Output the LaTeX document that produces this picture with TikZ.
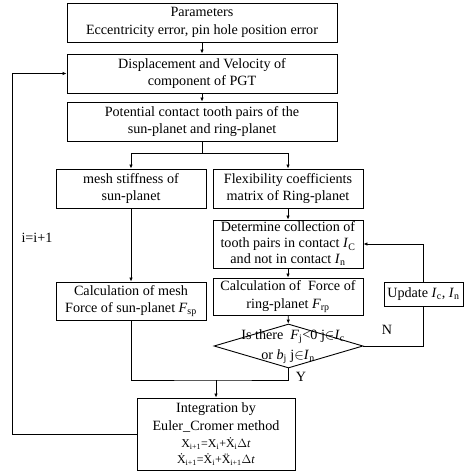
\documentclass[tikz,border=0pt]{standalone}
\usepackage{fontspec}
\setmainfont{Liberation Serif}
\usetikzlibrary{arrows.meta,shapes.geometric}
\begin{document}
\begin{tikzpicture}[x=1bp,y=-1bp,
  box/.style={draw,line width=0.9pt,align=center,inner sep=0pt,font=\fontsize{14.2}{17.5}\selectfont},
  arr/.style={-{Latex[length=4pt,width=3.5pt]},line width=0.8pt},
  ln/.style={line width=0.8pt},
  lab/.style={font=\fontsize{14.2}{16}\selectfont}]
\useasboundingbox[fill=white] (0,0) rectangle (474,474);
\node[box,minimum width=270bp,minimum height=39bp] (box1) at (202,22.5) {Parameters\\Eccentricity error, pin hole position error};
\node[box,minimum width=270bp,minimum height=39bp] (box2) at (202,73.5) {Displacement and Velocity of\\component of PGT};
\node[box,minimum width=270bp,minimum height=39bp] (box3) at (202,121.5) {Potential contact tooth pairs of the\\sun-planet and ring-planet};
\node[box,minimum width=150bp,minimum height=39bp] (stiff) at (131,188.5) {mesh stiffness of\\sun-planet};
\node[box,minimum width=150bp,minimum height=39bp] (flex) at (288,188.5) {Flexibility coefficients\\matrix of Ring-planet};
\node[box,minimum width=150bp,minimum height=48bp,font=\fontsize{14.2}{16}\selectfont] (det) at (288,244) {Determine collection of\\tooth pairs in contact \textit{I}\textsubscript{C}\\and not in contact \textit{I}\textsubscript{n}};
\node[box,minimum width=150bp,minimum height=38bp] (calcm) at (131,301) {Calculation of mesh\\Force of sun-planet \textit{F}\textsubscript{sp}};
\node[box,minimum width=150bp,minimum height=37bp] (calcf) at (288,296.5) {Calculation of~ Force of\\ring-planet \textit{F}\textsubscript{rp}};
\node[box,minimum width=79bp,minimum height=24bp] (upd) at (423.5,294) {Update \textit{I}\textsubscript{c}, \textit{I}\textsubscript{n}};
\node[diamond,draw,line width=0.9pt,minimum width=149bp,minimum height=44bp,inner sep=0pt] (dia) at (288.5,346) {};
\node[lab,anchor=center] (diat1) at (293,337) {Is there~ \textit{F}\textsubscript{j}<0 j$\in$\textit{I}\textsubscript{c}};
\node[lab,anchor=center] (diat2) at (288,357) {or \textit{b}\textsubscript{j} j$\in$\textit{I}\textsubscript{n}};
\node[box,minimum width=158bp,minimum height=72bp,font=\fontsize{14.2}{18.5}\selectfont] (integ) at (216,434) {Integration by\\Euler\_Cromer method\\[-2pt]{\fontsize{12}{17}\selectfont X\textsubscript{i+1}=X\textsubscript{i}+\.{X}\textsubscript{i}\textit{$\Delta$t}}\\[-2pt]{\fontsize{12}{17}\selectfont \.{X}\textsubscript{i+1}=\.{X}\textsubscript{i}+\"{X}\textsubscript{i+1}\textit{$\Delta$t}}};
\node[lab] (nlab) at (387,330) {N};
\node[lab] (ylab) at (301,377) {Y};
\node[lab] (ilab) at (37,238) {i=i+1};
\coordinate (sp) at (202,153);
\coordinate (join) at (216,380);
\coordinate (lp) at (12,434);
\draw[arr] (box1) -- (box2);
\draw[arr] (box2) -- (box3);
\draw[ln] (box3.south) -- (sp);
\draw[arr] (sp) -| (stiff.north);
\draw[arr] (sp) -| (flex.north);
\draw[arr] (stiff) -- (calcm);
\draw[arr] (flex) -- (det);
\draw[arr] (det) -- (calcf);
\draw[arr] (calcf) -- (dia);
\draw[ln] (dia.east) -| (upd.south);
\draw[arr] (upd.north) |- (det.east);
\draw[ln] (dia.south) |- (join) -| (calcm.south);
\draw[arr] (join) -- (integ.north);
\draw[arr] (integ.west) -- (lp) |- (box2.west);
\end{tikzpicture}
\end{document}
